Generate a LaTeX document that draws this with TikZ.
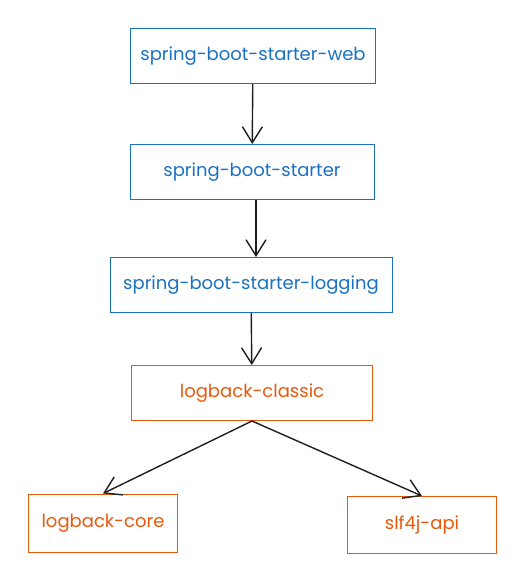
\documentclass[tikz,border=0pt]{standalone}
\usepackage{fontspec}
\setmainfont{Poppins}
\usetikzlibrary{arrows.meta}

\begin{document}
\begin{tikzpicture}[x=1pt, y=-1pt,
    dep/.style={rectangle, draw=#1, text=#1, line width=1pt, minimum height=55pt, font=\fontsize{18}{20}\selectfont},
    link/.style={draw=ink, line width=1.4pt, -{Straight Barb[length=16pt, width=20pt]}}]
    % Define colors
    \definecolor{springblue}{RGB}{25,113,194}
    \definecolor{logorange}{RGB}{232,89,12}
    \definecolor{ink}{RGB}{30,30,30}

    \useasboundingbox (0,0) rectangle (523,579);

    % Spring boot chain
    \node[dep=springblue, minimum width=245pt] (web) at (253,56) {spring-boot-starter-web};
    \node[dep=springblue, minimum width=244pt] (starter) at (252,172) {spring-boot-starter};
    \node[dep=springblue, minimum width=282pt] (logging) at (251,285) {spring-boot-starter-logging};

    % Logback
    \node[dep=logorange, minimum width=241pt] (classic) at (252,393) {logback-classic};
    \node[dep=logorange, minimum width=149pt, minimum height=58pt] (core) at (103,523) {logback-core};
    \node[dep=logorange, minimum width=149pt, minimum height=57pt] (slf4j) at (422,525) {slf4j-api};

    % Dependencies
    \draw[link] (web) -- (starter);
    \draw[link] (starter.south) ++(4,0) coordinate (s1) -- (s1 |- logging.north);
    \draw[link] (logging) -- (classic);
    \draw[link] (classic.south) -- (core.north);
    \draw[link] (classic.south) -- (slf4j.north);
\end{tikzpicture}
\end{document}
